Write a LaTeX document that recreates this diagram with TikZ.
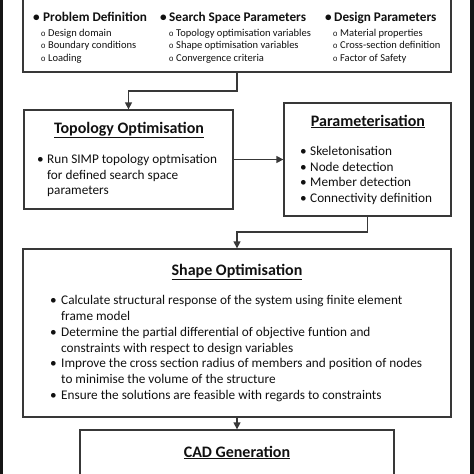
\documentclass[tikz,border=0pt]{standalone}
\usepackage{fontspec}
\setmainfont{Carlito}
\newfontfamily\monofam{Liberation Mono}
\usetikzlibrary{arrows.meta}
\definecolor{ln}{HTML}{383838}
\definecolor{tx}{HTML}{111111}
\definecolor{bar}{HTML}{151515}
\newcommand\bul[1]{\makebox[#1][l]{•}}
\newcommand\circl[1]{\makebox[#1][l]{\fontsize{8}{8}\monofam o}}
\begin{document}
\begin{tikzpicture}[x=1pt,y=-1pt,
  box/.style={draw=ln,line width=1.3pt,rectangle,inner sep=0pt},
  ttl/.style={anchor=base,inner sep=0pt,text=tx,font=\fontsize{16}{18}\selectfont\bfseries},
  itm/.style={anchor=base west,inner sep=0pt,text=tx,font=\fontsize{13.25}{15}\selectfont},
  hd/.style={anchor=base west,inner sep=0pt,text=tx,font=\fontsize{13.2}{15}\selectfont\bfseries},
  sub/.style={anchor=base west,inner sep=0pt,text=tx,font=\fontsize{10.5}{12}\selectfont},
  arr/.style={draw=ln,line width=1.3pt,-{Triangle[length=7pt,width=7pt]}}]
\clip (0,0) rectangle (474,474);
\fill[white] (0,0) rectangle (474,474);
\fill[bar] (0,0) rectangle (3,474);
\fill[bar] (470,0) rectangle (474,474);
% boxes
\node[box,minimum width=428pt,minimum height=92pt] (top) at (237,26) {};
\node[box,minimum width=209pt,minimum height=99pt] (topo) at (128.5,159.5) {};
\node[box,minimum width=167pt,minimum height=113pt] (param) at (367.5,159.5) {};
\node[box,minimum width=428pt,minimum height=168pt] (shape) at (237,333) {};
\node[box,minimum width=314pt,minimum height=70pt] (cad) at (237,465) {};
% top box text
\node[hd] (h1) at (33,21) {\bul{10pt}Problem Definition};
\node[sub] (s11) at (40.6,36) {\circl{7.4pt}Design domain};
\node[sub] (s12) at (40.6,48.5) {\circl{7.4pt}Boundary conditions};
\node[sub] (s13) at (40.6,61) {\circl{7.4pt}Loading};
\node[hd] (h2) at (160,21) {\bul{9pt}Search Space Parameters};
\node[sub] (s21) at (168.6,36) {\circl{7.4pt}Topology optimisation variables};
\node[sub] (s22) at (168.6,48.5) {\circl{7.4pt}Shape optimisation variables};
\node[sub] (s23) at (168.6,61) {\circl{7.4pt}Convergence criteria};
\node[hd] (h3) at (325,21) {\bul{9pt}Design Parameters};
\node[sub] (s31) at (332.6,36) {\circl{7.4pt}Material properties};
\node[sub] (s32) at (332.6,48.5) {\circl{7.4pt}Cross-section definition};
\node[sub] (s33) at (332.6,61) {\circl{7.4pt}Factor of Safety};
% topology
\node[ttl] (t1) at (129,133) {\underline{Topology Optimisation}};
\node[itm] (t2) at (37,163) {\bul{10pt}Run SIMP topology optmisation};
\node[itm] (t3) at (47,179) {for defined search space};
\node[itm] (t4) at (47,194.5) {parameters};
% param
\node[ttl] (p1) at (368,126) {\underline{Parameterisation}};
\node[itm] (p2) at (300,155) {\bul{10pt}Skeletonisation};
\node[itm] (p3) at (300,171) {\bul{10pt}Node detection};
\node[itm] (p4) at (300,186.5) {\bul{10pt}Member detection};
\node[itm] (p5) at (300,202) {\bul{10pt}Connectivity definition};
% shape
\node[ttl] (q1) at (237,275) {\underline{Shape Optimisation}};
\node[itm] (q2) at (50,304) {\bul{11pt}Calculate structural response of the system using finite element};
\node[itm] (q3) at (61,320) {frame model};
\node[itm] (q4) at (50,336) {\bul{11pt}Determine the partial differential of objective funtion and};
\node[itm] (q5) at (61,352) {constraints with respect to design variables};
\node[itm] (q6) at (50,367.5) {\bul{11pt}Improve the cross section radius of members and position of nodes};
\node[itm] (q7) at (61,383) {to minimise the volume of the structure};
\node[itm] (q8) at (50,399) {\bul{11pt}Ensure the solutions are feasible with regards to constraints};
% CAD
\node[ttl] (c1) at (237,457) {\underline{CAD Generation}};
% connectors
\coordinate (k1) at (180,91);
\coordinate (k2) at (300,232);
\draw[arr] (top.south) |- (k1) -| (topo.north);
\draw[arr] (topo.east) -- (param.west);
\draw[arr] (param.south) |- (k2) -| (shape.north);
\draw[arr] (shape.south) -- (cad.north);
\end{tikzpicture}
\end{document}
